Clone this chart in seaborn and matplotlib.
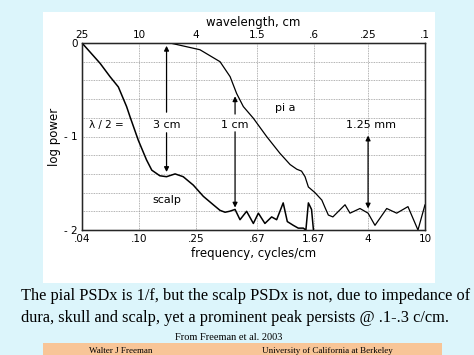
import numpy as np
import pandas as pd
import matplotlib
matplotlib.use("Agg")
import matplotlib.pyplot as plt
from matplotlib.patches import Rectangle
import seaborn as sns

# scalp spectrum (frequency in cycles/cm, log power)
scalp_freq = [0.04, 0.0535, 0.0628, 0.0718, 0.082, 0.0867, 0.099, 0.113, 0.123, 0.140,
              0.156, 0.179, 0.204, 0.240, 0.282, 0.331, 0.369, 0.40, 0.43, 0.47,
              0.509, 0.566, 0.631, 0.684, 0.760, 0.847, 0.918, 1.02, 1.09, 1.20,
              1.30, 1.41, 1.47, 1.53, 1.61, 1.66]
scalp_power = [0.0, -0.217, -0.36, -0.47, -0.68, -0.79, -1.04, -1.25, -1.36, -1.42,
               -1.43, -1.40, -1.43, -1.52, -1.64, -1.73, -1.79, -1.81, -1.80, -1.78,
               -1.89, -1.80, -1.93, -1.82, -1.93, -1.86, -1.89, -1.71, -1.91, -1.95,
               -1.98, -1.98, -2.0, -1.71, -1.78, -2.0]

# pial spectrum
pia_freq = [0.165, 0.267, 0.369, 0.434, 0.482, 0.537, 0.631, 0.781, 0.968, 1.14,
            1.27, 1.37, 1.45, 1.53, 1.70, 1.90, 2.0, 2.11, 2.27, 2.76, 2.99, 3.51,
            4.0, 4.47, 5.40, 6.34, 7.60, 8.93, 10.0]
pia_power = [0.0, -0.072, -0.2, -0.36, -0.54, -0.68, -0.805, -1.0, -1.18, -1.30,
             -1.35, -1.37, -1.43, -1.54, -1.60, -1.68, -1.76, -1.84, -1.86, -1.73,
             -1.82, -1.77, -1.82, -1.95, -1.77, -1.82, -1.75, -2.0, -1.73]

freq_ticks = [0.04, 0.10, 0.25, 0.67, 1.67, 4, 10]
freq_labels = [".04", ".10", ".25", ".67", "1.67", "4", "10"]
wave_ticks = [25, 10, 4, 1.5, 0.6, 0.25, 0.1]
wave_labels = ["25", "10", "4", "1.5", ".6", ".25", ".1"]

W, H = 474, 355
def fx(px):
    return px / W
def fy(py):
    return 1 - py / H

sns.set_style("white")
plt.rcParams["font.family"] = ["DejaVu Sans"]
plt.rcParams.update({"text.color": "black", "axes.labelcolor": "black",
                     "xtick.color": "black", "ytick.color": "black"})

fig = plt.figure(figsize=(4.74, 3.55), dpi=100, facecolor="#dcf5fb")
fig.patches.append(Rectangle((fx(43), fy(283)), fx(392), 271 / H, transform=fig.transFigure,
                             facecolor="white", edgecolor="none", zorder=-10))
fig.patches.append(Rectangle((fx(43), 0), fx(399), 12 / H, transform=fig.transFigure,
                             facecolor="#f8c597", edgecolor="none", zorder=-10))

ax = fig.add_axes([fx(82), fy(230), fx(343), 187 / H])
ax.set_facecolor("white")

scalp = pd.DataFrame({"freq": scalp_freq, "power": scalp_power})
pia = pd.DataFrame({"freq": pia_freq, "power": pia_power})
sns.lineplot(data=scalp, x="freq", y="power", ax=ax, color="black", lw=1.1, sort=False)
sns.lineplot(data=pia, x="freq", y="power", ax=ax, color="black", lw=0.9, sort=False)

ax.set_xscale("log")
ax.set_xlim(0.04, 10)
ax.set_ylim(-2, 0)
ax.set_xticks(freq_ticks)
ax.set_xticklabels(freq_labels)
ax.xaxis.set_minor_locator(matplotlib.ticker.NullLocator())
ax.set_yticks([0, -1, -2])
ax.set_yticklabels(["0", "- 1", "- 2"])
ax.set_yticks(np.arange(-1.8, 0, 0.2), minor=True)
ax.grid(True, which="both", color="#999999", linestyle=(0, (1, 1)), lw=0.6)
ax.tick_params(axis="both", which="both", length=0, labelsize=7.5, pad=3)
for s in ax.spines.values():
    s.set_color("black")
    s.set_linewidth(1.0)
ax.set_xlabel("frequency, cycles/cm", fontsize=8.5, labelpad=2)
ax.set_ylabel("log power", fontsize=8.5, labelpad=2)

top = ax.twiny()
top.set_xscale("log")
top.set_xlim(ax.get_xlim())
top.set_xticks([1 / w for w in wave_ticks])
top.set_xticklabels(wave_labels)
top.xaxis.set_minor_locator(matplotlib.ticker.NullLocator())
top.tick_params(axis="x", length=0, labelsize=7.5, pad=2)
top.set_xlabel("wavelength, cm", fontsize=8.5, labelpad=3)

arrow = dict(arrowstyle="-|>", color="black", lw=0.9, mutation_scale=7, shrinkA=0, shrinkB=0)
ax.text(0.0445, -0.88, "\u03bb / 2 =", fontsize=7.5, va="center")
ax.text(0.156, -0.88, "3 cm", fontsize=8, va="center", ha="center")
ax.annotate("", xy=(0.156, -0.03), xytext=(0.156, -0.74), arrowprops=arrow)
ax.annotate("", xy=(0.156, -1.38), xytext=(0.156, -0.96), arrowprops=arrow)
ax.text(0.47, -0.88, "1 cm", fontsize=8, va="center", ha="center")
ax.annotate("", xy=(0.47, -0.57), xytext=(0.47, -0.76), arrowprops=arrow)
ax.annotate("", xy=(0.47, -1.76), xytext=(0.47, -0.95), arrowprops=arrow)
ax.text(4.2, -0.88, "1.25 mm", fontsize=8, va="center", ha="center")
ax.annotate("", xy=(4.0, -0.99), xytext=(4.0, -1.77),
            arrowprops=dict(arrowstyle="<|-|>", color="black", lw=0.9, mutation_scale=7,
                            shrinkA=0, shrinkB=0))
ax.text(1.05, -0.70, "pi a", fontsize=8, va="center", ha="center")
ax.text(0.156, -1.68, "scalp", fontsize=8, va="center", ha="center")

fig.text(fx(21), fy(296), "The pial PSDx is 1/f, but the scalp PSDx is not, due to impedance of",
         fontsize=11.75, family="Liberation Serif", va="center", ha="left")
fig.text(fx(21), fy(318), "dura, skull and scalp, yet a prominent peak persists @ .1-.3 c/cm.",
         fontsize=11.75, family="Liberation Serif", va="center", ha="left")
fig.text(fx(229), fy(337), "From Freeman et al. 2003", fontsize=7.5,
         family="Liberation Serif", va="center", ha="center")
fig.text(fx(121), fy(351), "Walter J Freeman", fontsize=6.5,
         family="Liberation Serif", va="center", ha="center")
fig.text(fx(327), fy(351), "University of California at Berkeley", fontsize=6.5,
         family="Liberation Serif", va="center", ha="center")

fig.savefig("out.png", dpi=100, facecolor=fig.get_facecolor())
